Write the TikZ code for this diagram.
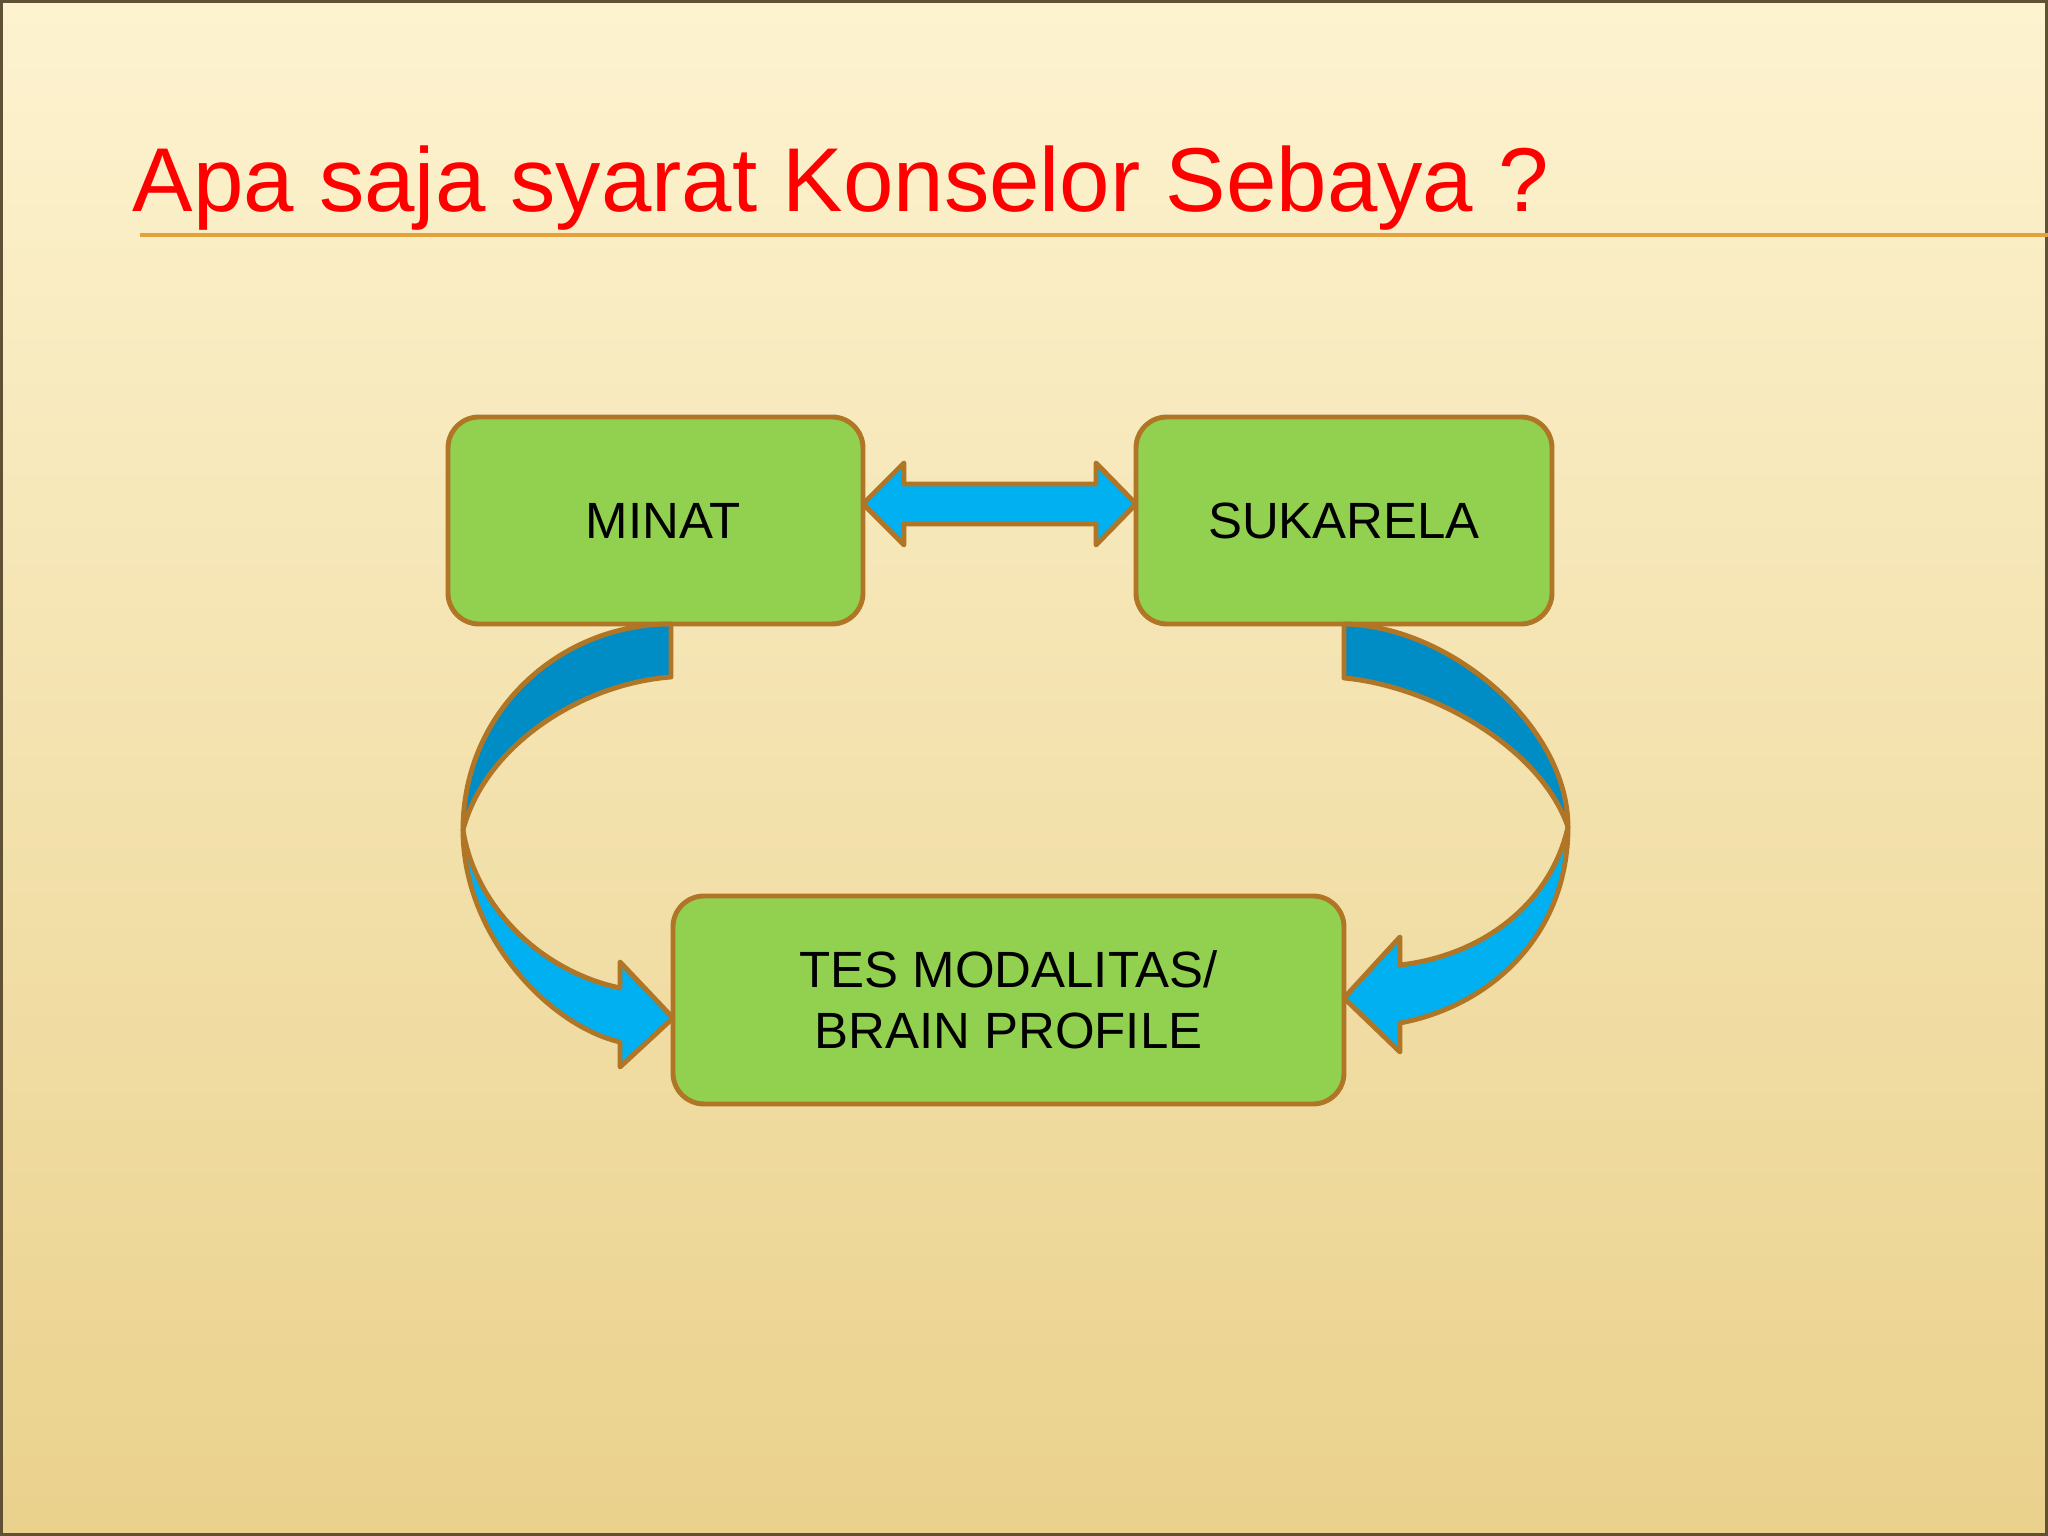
\documentclass[tikz,border=0pt]{standalone}
\usepackage{fontspec}
\setmainfont{Liberation Sans}
\usetikzlibrary{calc}

\definecolor{latatas}{RGB}{253,243,208}
\definecolor{lattengah}{RGB}{248,230,178}
\definecolor{latbawah}{RGB}{234,209,140}
\definecolor{bingkai}{RGB}{96,80,52}
\definecolor{hijau}{RGB}{146,208,80}
\definecolor{coklat}{RGB}{176,118,38}
\definecolor{birumuda}{RGB}{0,176,240}
\definecolor{birutua}{RGB}{0,140,196}
\definecolor{emas}{RGB}{228,160,60}

\tikzset{
    box/.style={draw=coklat, fill=hijau, line width=1.4pt, rounded corners=0.31cm,
        inner sep=0pt, outer sep=0pt, align=center,
        font=\fontsize{14.5}{17.2}\selectfont},
    blockarrow/.style={draw=coklat, fill=birumuda, line width=1.4pt, line join=round},
    backface/.style={blockarrow, fill=birutua}
}

\begin{document}
\begin{tikzpicture}
                \useasboundingbox (0, 0) rectangle (20.48, 15.36);
                \shade[top color=latatas, middle color=lattengah, bottom color=latbawah] (0, 0) rectangle (20.48, 15.36);
                \draw[bingkai, line width=0.03cm] (0.015, 0.015) rectangle (20.465, 15.345);

                % judul
                \node[anchor=base west, inner sep=0pt, red, font=\fontsize{25.8}{31}\selectfont] (judul) at (1.32, 13.24) {Apa saja syarat Konselor Sebaya ?};
                \draw[emas, line width=0.04cm] (1.40, 13.01) -- (20.48, 13.01);

                \node[box, minimum width=4.15cm, minimum height=2.07cm] (minat) at (6.555, 10.155) {\hspace{0.15cm}MINAT};
                \node[box, minimum width=4.16cm, minimum height=2.07cm] (sukarela) at (13.44, 10.155) {SUKARELA};
                \node[box, minimum width=6.71cm, minimum height=2.08cm] (tes) at (10.085, 5.36) {TES MODALITAS/\\BRAIN PROFILE};

                % minat <-> sukarela
                \draw[blockarrow] ($(minat.east)+(0, 0.165)$) -- ++(0.41, 0.41) -- ++(0, -0.21) -- ++(1.92, 0) -- ++(0, 0.21)
                    -- ($(sukarela.west)+(0, 0.165)$) -- ++(-0.40, -0.41) -- ++(0, 0.21) -- ++(-1.92, 0) -- ++(0, -0.21) -- cycle;

                % minat -> tes
                \draw[blockarrow] (4.63, 7.06) .. controls (4.75, 6.3) and (5.4, 5.65) .. (6.20, 5.48) -- (6.20, 5.74)
                    -- ($(tes.west)+(0, -0.18)$) -- (6.20, 4.69) -- (6.20, 4.94)
                    .. controls (5.5, 5.1) and (4.63, 6.0) .. (4.63, 7.06) -- cycle;
                \draw[backface] ($(minat.south)+(0.155, 0)$) -- (6.71, 8.59)
                    .. controls (5.8, 8.52) and (4.85, 7.9) .. (4.63, 7.06)
                    .. controls (4.63, 8.25) and (5.6, 9.12) .. (6.71, 9.12) -- cycle;

                % sukarela -> tes
                \draw[blockarrow] (15.68, 7.09) .. controls (15.5, 6.3) and (14.8, 5.8) .. (14.00, 5.71) -- (14.00, 5.99)
                    -- ($(tes.east)+(0, 0.02)$) -- (14.00, 4.84) -- (14.00, 5.13)
                    .. controls (14.9, 5.3) and (15.68, 6.0) .. (15.68, 7.09) -- cycle;
                \draw[backface] (sukarela.south) -- (13.44, 8.58)
                    .. controls (14.3, 8.5) and (15.4, 7.9) .. (15.68, 7.09)
                    .. controls (15.68, 8.1) and (14.5, 9.1) .. (13.44, 9.12) -- cycle;

            \end{tikzpicture}
\end{document}
